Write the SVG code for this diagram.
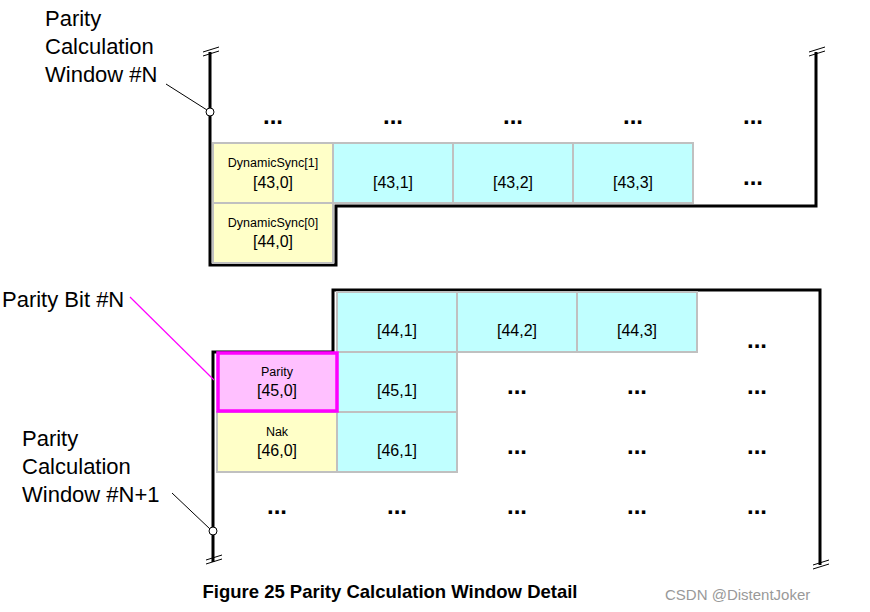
<svg xmlns="http://www.w3.org/2000/svg" width="870" height="612" viewBox="0 0 870 612">
<style>
text{font-family:"Liberation Sans",Arial,sans-serif;fill:#000}
.y{fill:#ffffc8;stroke:#c0c0c0;stroke-width:2}
.c{fill:#c0ffff;stroke:#c0c0c0;stroke-width:2}
.p{fill:#ffc0ff;stroke:#ff00ff;stroke-width:3.5}
.w{fill:none;stroke:#000;stroke-width:3}
.t{font-size:16px;text-anchor:middle}
.s{font-size:12.5px;text-anchor:middle}
.d{font-size:24px;text-anchor:middle;font-weight:bold}
.l{font-size:22px}
.ln{stroke:#000;stroke-width:1;fill:none}
</style>
<g id="connectors">
<polyline class="w" points="210,52 210,265 336,265 336,206 816,206 816,52"/>
<polyline class="w" points="213,562 213,352 333,352 333,290 820,290 820,565"/>
<path class="ln" d="M203,52l16,-5M203,56l16,-5M809,52l16,-5M809,56l16,-5M206,560l16,-5M206,564l16,-5M813,565l16,-5M813,569l16,-5" stroke-width="1.5"/>
<line class="ln" x1="166" y1="84" x2="207" y2="110"/>
<circle cx="210" cy="112" r="4" fill="#fff" stroke="#000"/>
<line class="ln" x1="172" y1="493" x2="210" y2="529"/>
<circle cx="213" cy="531" r="4" fill="#fff" stroke="#000"/>
<line x1="130" y1="297" x2="214" y2="380" stroke="#ff00ff" stroke-width="1.2"/>
</g>
<g id="cells">
<g id="n43_0"><rect class="y" x="213" y="143" width="120" height="60"/><text class="s" x="273" y="167">DynamicSync[1]</text><text class="t" x="273" y="188">[43,0]</text></g>
<g id="n43_1"><rect class="c" x="333" y="143" width="120" height="60"/><text class="t" x="393" y="188">[43,1]</text></g>
<g id="n43_2"><rect class="c" x="453" y="143" width="120" height="60"/><text class="t" x="513" y="188">[43,2]</text></g>
<g id="n43_3"><rect class="c" x="573" y="143" width="120" height="60"/><text class="t" x="633" y="188">[43,3]</text></g>
<g id="n44_0"><rect class="y" x="213" y="203" width="120" height="60"/><text class="s" x="273" y="227">DynamicSync[0]</text><text class="t" x="273" y="247">[44,0]</text></g>
<g id="n44_1"><rect class="c" x="337" y="292" width="120" height="60"/><text class="t" x="397" y="336">[44,1]</text></g>
<g id="n44_2"><rect class="c" x="457" y="292" width="120" height="60"/><text class="t" x="517" y="336">[44,2]</text></g>
<g id="n44_3"><rect class="c" x="577" y="292" width="120" height="60"/><text class="t" x="637" y="336">[44,3]</text></g>
<g id="n45_1"><rect class="c" x="337" y="352" width="120" height="60"/><text class="t" x="397" y="396">[45,1]</text></g>
<g id="n46_0"><rect class="y" x="217" y="412" width="120" height="60"/><text class="s" x="277" y="436">Nak</text><text class="t" x="277" y="456">[46,0]</text></g>
<g id="n46_1"><rect class="c" x="337" y="412" width="120" height="60"/><text class="t" x="397" y="456">[46,1]</text></g>
<g id="n45_0"><rect class="p" x="218" y="353" width="119" height="58"/><text class="s" x="277" y="376">Parity</text><text class="t" x="277" y="396">[45,0]</text></g>
</g>
<g id="dots">
<text class="d" x="273" y="124">...</text><text class="d" x="393" y="124">...</text><text class="d" x="513" y="124">...</text><text class="d" x="633" y="124">...</text><text class="d" x="753" y="124">...</text>
<text class="d" x="753" y="185">...</text>
<text class="d" x="757" y="348">...</text>
<text class="d" x="517" y="394">...</text><text class="d" x="637" y="394">...</text><text class="d" x="757" y="394">...</text>
<text class="d" x="517" y="454">...</text><text class="d" x="637" y="454">...</text><text class="d" x="757" y="454">...</text>
<text class="d" x="277" y="514">...</text><text class="d" x="397" y="514">...</text><text class="d" x="517" y="514">...</text><text class="d" x="637" y="514">...</text><text class="d" x="757" y="514">...</text>
</g>
<g id="labels">
<text class="l" x="45" y="26">Parity</text><text class="l" x="45" y="54">Calculation</text><text class="l" x="45" y="82">Window #N</text>
<text class="l" x="2" y="307">Parity Bit #N</text>
<text class="l" x="22" y="446">Parity</text><text class="l" x="22" y="474">Calculation</text><text class="l" x="22" y="502">Window #N+1</text>
<text x="390" y="598" font-size="18.5" font-weight="bold" text-anchor="middle">Figure 25 Parity Calculation Window Detail</text>
<text x="665" y="600" font-size="15" style="fill:#999">CSDN @DistentJoker</text>
</g>
</svg>
